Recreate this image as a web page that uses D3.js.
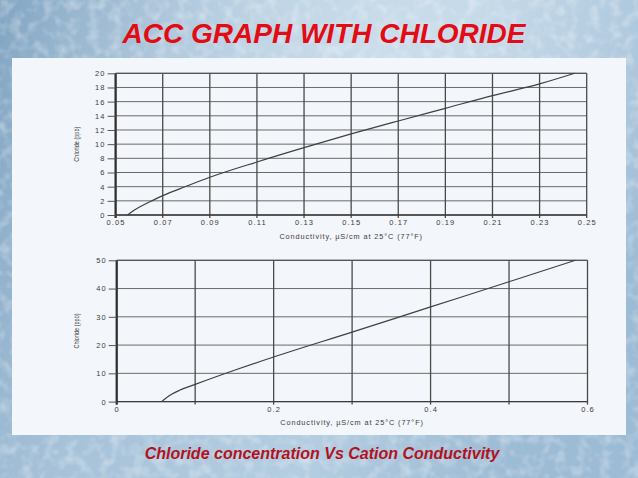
<!DOCTYPE html>
<html>
<head>
<meta charset="utf-8">
<script src="https://cdn.jsdelivr.net/npm/d3@7"></script>
<style>
  html, body { margin: 0; padding: 0; background: #a9c3d8; }
  svg { display: block; }
</style>
</head>
<body>
<script>
// Upper chart: chloride (ppb) vs conductivity, low range
const topConductivity = [0.0551, 0.058, 0.062, 0.066, 0.07, 0.08, 0.09, 0.11, 0.13, 0.15, 0.17, 0.19, 0.21, 0.23, 0.2449];
const topChloride = [0, 0.7, 1.45, 2.1, 2.73, 4.05, 5.32, 7.48, 9.5, 11.44, 13.27, 15.06, 16.85, 18.5, 20];
const topXTicks = [0.05, 0.07, 0.09, 0.11, 0.13, 0.15, 0.17, 0.19, 0.21, 0.23, 0.25];
const topYTicks = [0, 2, 4, 6, 8, 10, 12, 14, 16, 18, 20];

// Lower chart: chloride (ppb) vs conductivity, wide range
const bottomConductivity = [0.0572, 0.063, 0.07, 0.08, 0.1, 0.15, 0.2, 0.3, 0.4, 0.5, 0.5847];
const bottomChloride = [0, 1.3, 2.6, 4.0, 6.1, 11.1, 15.8, 24.6, 33.5, 42.4, 50];
const bottomXGrid = [0, 0.1, 0.2, 0.3, 0.4, 0.5, 0.6];
const bottomXLabels = [0, 0.2, 0.4, 0.6];
const bottomYTicks = [0, 10, 20, 30, 40, 50];

const titleText = "ACC GRAPH WITH CHLORIDE";
const captionText = "Chloride concentration Vs Cation Conductivity";
const xTitle = "Conductivity, \u00b5S/cm at 25\u00b0C (77\u00b0F)";
const yTitle = "Chloride (ppb)";

const width = 638, height = 478;

const svg = d3.select("body").append("svg")
  .attr("width", width)
  .attr("height", height);

const defs = svg.append("defs");

// slide background: watery blue
const bg = defs.append("linearGradient").attr("id", "bg")
  .attr("x1", 0).attr("y1", 0).attr("x2", 1).attr("y2", 0.3);
bg.append("stop").attr("offset", "0%").attr("stop-color", "#82a5c3");
bg.append("stop").attr("offset", "35%").attr("stop-color", "#a6c2d9");
bg.append("stop").attr("offset", "70%").attr("stop-color", "#b4cde1");
bg.append("stop").attr("offset", "100%").attr("stop-color", "#9cbbd5");

const glow = defs.append("radialGradient").attr("id", "glow")
  .attr("cx", 0.6).attr("cy", 0.1).attr("r", 0.6);
glow.append("stop").attr("offset", "0%").attr("stop-color", "#d8e6f0").attr("stop-opacity", 0.7);
glow.append("stop").attr("offset", "100%").attr("stop-color", "#d8e6f0").attr("stop-opacity", 0);

const speckle = defs.append("filter").attr("id", "speckle");
speckle.append("feTurbulence").attr("type", "fractalNoise")
  .attr("baseFrequency", 0.09).attr("numOctaves", 2).attr("seed", 4);
speckle.append("feColorMatrix").attr("type", "matrix")
  .attr("values", "0 0 0 0 1  0 0 0 0 1  0 0 0 0 1  0 0 0 -2.2 1.25");

svg.append("rect").attr("width", width).attr("height", height).attr("fill", "url(#bg)");
svg.append("rect").attr("width", width).attr("height", height).attr("fill", "url(#glow)");
svg.append("rect").attr("width", width).attr("height", height)
  .attr("filter", "url(#speckle)").attr("opacity", 0.35);

// white scanned-page panel
svg.append("rect")
  .attr("x", 12).attr("y", 58)
  .attr("width", 614).attr("height", 377)
  .attr("fill", "#f3f6fa");

// slide title + caption
svg.append("text")
  .attr("x", 324).attr("y", 43)
  .attr("text-anchor", "middle")
  .attr("font-family", "Liberation Sans, Arial, sans-serif")
  .attr("font-weight", "bold").attr("font-style", "italic")
  .attr("font-size", 28)
  .attr("fill", "#e30b14")
  .text(titleText);

svg.append("text")
  .attr("x", 322).attr("y", 459)
  .attr("text-anchor", "middle")
  .attr("font-family", "Liberation Sans, Arial, sans-serif")
  .attr("font-weight", "bold").attr("font-style", "italic")
  .attr("font-size", 16)
  .attr("fill", "#b3121c")
  .text(captionText);

const drawChart = (opts) => {
  const { left, right, top, bottom, xDomain, yDomain, xs, ys, xGrid, xLabels, yTicks, xFormat, titleY } = opts;

  const xScale = d3.scaleLinear().domain(xDomain).range([left, right]);
  const yScale = d3.scaleLinear().domain(yDomain).range([bottom, top]);

  const g = svg.append("g");

  // horizontal gridlines
  g.append("g")
    .selectAll("line")
    .data(yTicks)
    .enter()
    .append("line")
    .attr("x1", left).attr("x2", right)
    .attr("y1", (d) => yScale(d)).attr("y2", (d) => yScale(d))
    .attr("stroke", "#6a6a6a")
    .attr("stroke-width", 1);

  // vertical gridlines, poking a bit below the axis
  g.append("g")
    .selectAll("line")
    .data(xGrid)
    .enter()
    .append("line")
    .attr("x1", (d) => xScale(d)).attr("x2", (d) => xScale(d))
    .attr("y1", top).attr("y2", bottom + 3)
    .attr("stroke", "#4a4a4a")
    .attr("stroke-width", 1.3);

  // frame: heavy left axis, top and bottom edges
  g.append("line")
    .attr("x1", left).attr("x2", left)
    .attr("y1", top).attr("y2", bottom + 3)
    .attr("stroke", "#2e2e2e").attr("stroke-width", 2.2);
  g.append("line")
    .attr("x1", left).attr("x2", right)
    .attr("y1", top).attr("y2", top)
    .attr("stroke", "#555").attr("stroke-width", 1.3);
  g.append("line")
    .attr("x1", left).attr("x2", right)
    .attr("y1", bottom).attr("y2", bottom)
    .attr("stroke", "#3a3a3a").attr("stroke-width", 1.4);

  // y axis ticks and labels
  const yAxis = d3.axisLeft(yScale)
    .tickValues(yTicks)
    .tickSize(8)
    .tickPadding(2)
    .tickFormat(d3.format("d"));
  const ya = g.append("g")
    .attr("transform", `translate(${left},0)`)
    .call(yAxis);
  ya.select(".domain").remove();
  ya.selectAll(".tick line").attr("stroke", "#555").attr("stroke-width", 1);
  ya.selectAll(".tick text")
    .attr("font-family", "Liberation Sans, Arial, sans-serif")
    .attr("font-size", 7.5)
    .attr("letter-spacing", 1.1)
    .attr("fill", "#3c3c3c");

  // x axis labels
  const xAxis = d3.axisBottom(xScale)
    .tickValues(xLabels)
    .tickSize(0)
    .tickPadding(5)
    .tickFormat(xFormat);
  const xa = g.append("g")
    .attr("transform", `translate(0,${bottom})`)
    .call(xAxis);
  xa.select(".domain").remove();
  xa.selectAll(".tick text")
    .attr("font-family", "Liberation Sans, Arial, sans-serif")
    .attr("font-size", 7.5)
    .attr("letter-spacing", 1.1)
    .attr("fill", "#3c3c3c");

  // axis titles
  g.append("text")
    .attr("x", (left + right) / 2).attr("y", titleY)
    .attr("text-anchor", "middle")
    .attr("font-family", "Liberation Sans, Arial, sans-serif")
    .attr("font-size", 7.3)
    .attr("letter-spacing", 0.9)
    .attr("fill", "#3c3c3c")
    .text(xTitle);

  g.append("text")
    .attr("transform", `translate(78.5,${(top + bottom) / 2}) rotate(-90)`)
    .attr("text-anchor", "middle")
    .attr("font-family", "Liberation Sans, Arial, sans-serif")
    .attr("font-size", 8)
    .attr("textLength", 35)
    .attr("lengthAdjust", "spacingAndGlyphs")
    .attr("fill", "#3c3c3c")
    .text(yTitle);

  // the curve
  const line = d3.line()
    .x((d) => xScale(d[0]))
    .y((d) => yScale(d[1]))
    .curve(d3.curveMonotoneX);

  g.append("path")
    .datum(d3.zip(xs, ys))
    .attr("fill", "none")
    .attr("stroke", "#404040")
    .attr("stroke-width", 1.2)
    .attr("d", line);
};

drawChart({
  left: 115.6, right: 586.7, top: 73.3, bottom: 215,
  xDomain: [0.05, 0.25], yDomain: [0, 20],
  xs: topConductivity, ys: topChloride,
  xGrid: topXTicks, xLabels: topXTicks, yTicks: topYTicks,
  xFormat: d3.format(".2f"),
  titleY: 239,
});

drawChart({
  left: 116.7, right: 587.5, top: 260.3, bottom: 401.6,
  xDomain: [0, 0.6], yDomain: [0, 50],
  xs: bottomConductivity, ys: bottomChloride,
  xGrid: bottomXGrid, xLabels: bottomXLabels, yTicks: bottomYTicks,
  xFormat: (d) => (d === 0 ? "0" : d3.format(".1f")(d)),
  titleY: 425,
});
</script>
</body>
</html>
